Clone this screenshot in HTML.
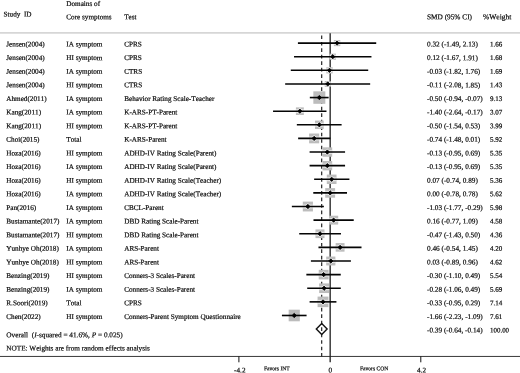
<!DOCTYPE html>
<html><head><meta charset="utf-8"><title>Forest plot</title>
<style>html,body{margin:0;padding:0;background:#fff}svg{display:block}text{font-kerning:none}</style></head>
<body>
<svg width="520" height="373" viewBox="0 0 520 373" font-family="'Liberation Serif', 'Times New Roman', serif" font-size="7.2" text-rendering="geometricPrecision">
<rect width="520" height="373" fill="#fff"/>
<line x1="0" y1="32.95" x2="520" y2="32.95" stroke="#d6d6d6" stroke-width="1.8"/>
<g fill="#0a0a0a" stroke="#0a0a0a" stroke-width="0.2">
<text transform="rotate(0.03 3.60 16.60)" x="3.60" y="16.60" xml:space="preserve">Study  ID</text>
<text transform="rotate(0.03 66.30 5.90)" x="66.30" y="5.90">Domains of</text>
<text transform="rotate(0.03 66.30 19.30)" x="66.30" y="19.30">Core symptoms</text>
<text transform="rotate(0.03 124.20 19.30)" x="124.20" y="19.30">Test</text>
<text transform="rotate(0.03 427.00 19.30)" x="427.00" y="19.30" font-size="7.3">SMD (95% CI)</text>
<text transform="rotate(0.03 483.00 19.30)" x="483.00" y="19.30" font-size="7.5">%Weight</text>
</g>
<line x1="330.15" y1="33.3" x2="330.15" y2="362.3" stroke="#000" stroke-width="1.15"/>
<line x1="321.71" y1="35.4" x2="321.71" y2="356.5" stroke="#111" stroke-width="1.1" stroke-dasharray="3.7,2.784"/>
<g fill="#bcbcbc">
<rect x="333.86" y="40.02" width="6.42" height="6.12"/>
<rect x="329.52" y="53.63" width="6.45" height="6.15"/>
<rect x="326.27" y="67.24" width="6.46" height="6.16"/>
<rect x="324.71" y="81.03" width="6.13" height="5.83"/>
<rect x="313.35" y="91.33" width="11.97" height="12.47"/>
<rect x="295.91" y="107.38" width="7.91" height="7.61"/>
<rect x="314.99" y="120.60" width="8.69" height="8.39"/>
<rect x="309.10" y="133.53" width="10.09" height="9.79"/>
<rect x="322.49" y="147.34" width="9.70" height="9.40"/>
<rect x="322.49" y="160.96" width="9.70" height="9.40"/>
<rect x="326.81" y="174.58" width="9.71" height="9.41"/>
<rect x="325.21" y="188.11" width="9.89" height="9.59"/>
<rect x="302.81" y="201.61" width="10.13" height="9.83"/>
<rect x="329.04" y="215.72" width="9.15" height="8.85"/>
<rect x="315.49" y="229.42" width="8.98" height="8.68"/>
<rect x="335.67" y="243.10" width="8.86" height="8.56"/>
<rect x="326.21" y="256.56" width="9.18" height="8.88"/>
<rect x="318.75" y="269.85" width="9.83" height="9.53"/>
<rect x="319.13" y="283.42" width="9.93" height="9.63"/>
<rect x="317.59" y="296.58" width="10.85" height="10.55"/>
<rect x="288.68" y="309.67" width="11.13" height="11.63"/>
</g>
<g fill="#fff" fill-opacity="0.6">
<rect x="333.86" y="41.08" width="6.42" height="4"/>
<polygon points="333.56,43.08 337.07,39.57 340.58,43.08 337.07,46.59"/>
<rect x="329.52" y="54.70" width="6.45" height="4"/>
<polygon points="329.22,56.70 332.75,53.18 336.27,56.70 332.75,60.22"/>
<rect x="326.27" y="68.32" width="6.46" height="4"/>
<polygon points="325.97,70.32 329.50,66.79 333.03,70.32 329.50,73.85"/>
<rect x="324.71" y="81.94" width="6.13" height="4"/>
<polygon points="324.41,83.94 327.77,80.58 331.13,83.94 327.77,87.30"/>
<rect x="295.91" y="109.18" width="7.91" height="4"/>
<polygon points="296.27,111.18 299.87,107.58 303.47,111.18 299.87,114.78"/>
<rect x="314.99" y="122.80" width="8.69" height="4"/>
<polygon points="315.73,124.80 319.33,121.20 322.94,124.80 319.33,128.40"/>
<rect x="309.10" y="136.42" width="10.09" height="4"/>
<polygon points="310.54,138.42 314.14,134.82 317.74,138.42 314.14,142.02"/>
<rect x="322.49" y="150.04" width="9.70" height="4"/>
<polygon points="323.74,152.04 327.34,148.44 330.94,152.04 327.34,155.64"/>
<rect x="322.49" y="163.66" width="9.70" height="4"/>
<polygon points="323.74,165.66 327.34,162.06 330.94,165.66 327.34,169.26"/>
<rect x="326.81" y="177.28" width="9.71" height="4"/>
<polygon points="328.06,179.28 331.66,175.68 335.26,179.28 331.66,182.88"/>
<rect x="325.21" y="190.90" width="9.89" height="4"/>
<polygon points="326.55,192.90 330.15,189.30 333.75,192.90 330.15,196.50"/>
<rect x="302.81" y="204.52" width="10.13" height="4"/>
<polygon points="304.27,206.52 307.87,202.92 311.47,206.52 307.87,210.12"/>
<rect x="329.04" y="218.14" width="9.15" height="4"/>
<polygon points="330.01,220.14 333.61,216.54 337.21,220.14 333.61,223.74"/>
<rect x="315.49" y="231.76" width="8.98" height="4"/>
<polygon points="316.38,233.76 319.98,230.16 323.58,233.76 319.98,237.36"/>
<rect x="335.67" y="245.38" width="8.86" height="4"/>
<polygon points="336.50,247.38 340.10,243.78 343.70,247.38 340.10,250.98"/>
<rect x="326.21" y="259.00" width="9.18" height="4"/>
<polygon points="327.20,261.00 330.80,257.40 334.40,261.00 330.80,264.60"/>
<rect x="318.75" y="272.62" width="9.83" height="4"/>
<polygon points="320.06,274.62 323.66,271.02 327.26,274.62 323.66,278.22"/>
<rect x="319.13" y="286.24" width="9.93" height="4"/>
<polygon points="320.49,288.24 324.09,284.64 327.69,288.24 324.09,291.84"/>
<rect x="317.59" y="299.86" width="10.85" height="4"/>
<polygon points="319.41,301.86 323.01,298.26 326.61,301.86 323.01,305.46"/>
</g>
<polygon points="316.31,329.10 321.71,323.60 327.12,329.10 321.71,334.60" fill="none" stroke="#111" stroke-width="1.4"/>
<g stroke="#050505" stroke-width="1.6">
<line x1="297.92" y1="43.08" x2="376.22" y2="43.08"/>
<line x1="294.03" y1="56.70" x2="371.46" y2="56.70"/>
<line x1="290.78" y1="70.32" x2="368.22" y2="70.32"/>
<line x1="285.16" y1="83.94" x2="370.17" y2="83.94"/>
<line x1="309.82" y1="97.56" x2="328.64" y2="97.56"/>
<line x1="273.05" y1="111.18" x2="326.47" y2="111.18"/>
<line x1="296.84" y1="124.80" x2="341.61" y2="124.80"/>
<line x1="298.14" y1="138.42" x2="330.37" y2="138.42"/>
<line x1="309.60" y1="152.04" x2="345.07" y2="152.04"/>
<line x1="309.60" y1="165.66" x2="345.07" y2="165.66"/>
<line x1="314.14" y1="179.28" x2="349.40" y2="179.28"/>
<line x1="313.28" y1="192.90" x2="347.02" y2="192.90"/>
<line x1="291.86" y1="206.52" x2="323.88" y2="206.52"/>
<line x1="313.49" y1="220.14" x2="353.73" y2="220.14"/>
<line x1="299.22" y1="233.76" x2="340.96" y2="233.76"/>
<line x1="318.47" y1="247.38" x2="361.51" y2="247.38"/>
<line x1="310.90" y1="261.00" x2="350.91" y2="261.00"/>
<line x1="306.36" y1="274.62" x2="340.75" y2="274.62"/>
<line x1="307.22" y1="288.24" x2="340.75" y2="288.24"/>
<line x1="309.60" y1="301.86" x2="336.42" y2="301.86"/>
<line x1="281.92" y1="315.48" x2="306.57" y2="315.48"/>
</g>
<g fill="#000" stroke="#000" stroke-width="0.8" stroke-linejoin="round">
<polygon points="334.92,43.08 337.07,40.93 339.22,43.08 337.07,45.23"/>
<polygon points="330.60,56.70 332.75,54.55 334.90,56.70 332.75,58.85"/>
<polygon points="327.35,70.32 329.50,68.17 331.65,70.32 329.50,72.47"/>
<polygon points="325.62,83.94 327.77,81.79 329.92,83.94 327.77,86.09"/>
<polygon points="317.19,97.56 319.33,95.41 321.48,97.56 319.33,99.71"/>
<polygon points="297.72,111.18 299.87,109.03 302.02,111.18 299.87,113.33"/>
<polygon points="317.19,124.80 319.33,122.65 321.48,124.80 319.33,126.95"/>
<polygon points="311.99,138.42 314.14,136.27 316.29,138.42 314.14,140.57"/>
<polygon points="325.19,152.04 327.34,149.89 329.49,152.04 327.34,154.19"/>
<polygon points="325.19,165.66 327.34,163.51 329.49,165.66 327.34,167.81"/>
<polygon points="329.51,179.28 331.66,177.13 333.81,179.28 331.66,181.43"/>
<polygon points="328.00,192.90 330.15,190.75 332.30,192.90 330.15,195.05"/>
<polygon points="305.72,206.52 307.87,204.37 310.02,206.52 307.87,208.67"/>
<polygon points="331.46,220.14 333.61,217.99 335.76,220.14 333.61,222.29"/>
<polygon points="317.83,233.76 319.98,231.61 322.13,233.76 319.98,235.91"/>
<polygon points="337.95,247.38 340.10,245.23 342.25,247.38 340.10,249.53"/>
<polygon points="328.65,261.00 330.80,258.85 332.95,261.00 330.80,263.15"/>
<polygon points="321.51,274.62 323.66,272.47 325.81,274.62 323.66,276.77"/>
<polygon points="321.94,288.24 324.09,286.09 326.24,288.24 324.09,290.39"/>
<polygon points="320.86,301.86 323.01,299.71 325.16,301.86 323.01,304.01"/>
<polygon points="292.09,315.48 294.24,313.33 296.39,315.48 294.24,317.63"/>
</g>
<g fill="#0a0a0a" stroke="#0a0a0a" stroke-width="0.2">
<text transform="rotate(0.03 6.30 46.50)" x="6.30" y="46.50">Jensen(2004)</text>
<text transform="rotate(0.03 66.30 46.50)" x="66.30" y="46.50">IA symptom</text>
<text transform="rotate(0.03 124.20 46.50)" x="124.20" y="46.50">CPRS</text>
<text transform="rotate(0.03 427.00 46.50)" x="427.00" y="46.50" font-size="7.27">0.32 (-1.49, 2.13)</text>
<text transform="rotate(0.03 490.00 46.50)" x="490.00" y="46.50" font-size="7">1.66</text>
<text transform="rotate(0.03 6.30 60.12)" x="6.30" y="60.12">Jensen(2004)</text>
<text transform="rotate(0.03 66.30 60.12)" x="66.30" y="60.12">HI symptom</text>
<text transform="rotate(0.03 124.20 60.12)" x="124.20" y="60.12">CPRS</text>
<text transform="rotate(0.03 427.00 60.12)" x="427.00" y="60.12" font-size="7.27">0.12 (-1.67, 1.91)</text>
<text transform="rotate(0.03 490.00 60.12)" x="490.00" y="60.12" font-size="7">1.68</text>
<text transform="rotate(0.03 6.30 73.74)" x="6.30" y="73.74">Jensen(2004)</text>
<text transform="rotate(0.03 66.30 73.74)" x="66.30" y="73.74">IA symptom</text>
<text transform="rotate(0.03 124.20 73.74)" x="124.20" y="73.74">CTRS</text>
<text transform="rotate(0.03 427.00 73.74)" x="427.00" y="73.74" font-size="7.27">-0.03 (-1.82, 1.76)</text>
<text transform="rotate(0.03 490.00 73.74)" x="490.00" y="73.74" font-size="7">1.69</text>
<text transform="rotate(0.03 6.30 87.36)" x="6.30" y="87.36">Jensen(2004)</text>
<text transform="rotate(0.03 66.30 87.36)" x="66.30" y="87.36">HI symptom</text>
<text transform="rotate(0.03 124.20 87.36)" x="124.20" y="87.36">CTRS</text>
<text transform="rotate(0.03 427.00 87.36)" x="427.00" y="87.36" font-size="7.27">-0.11 (-2.08, 1.85)</text>
<text transform="rotate(0.03 490.00 87.36)" x="490.00" y="87.36" font-size="7">1.43</text>
<text transform="rotate(0.03 6.30 100.98)" x="6.30" y="100.98">Ahmed(2011)</text>
<text transform="rotate(0.03 66.30 100.98)" x="66.30" y="100.98">IA symptom</text>
<text transform="rotate(0.03 124.20 100.98)" x="124.20" y="100.98">Behavior Rating Scale-Teacher</text>
<text transform="rotate(0.03 427.00 100.98)" x="427.00" y="100.98" font-size="7.27">-0.50 (-0.94, -0.07)</text>
<text transform="rotate(0.03 490.00 100.98)" x="490.00" y="100.98" font-size="7">9.13</text>
<text transform="rotate(0.03 6.30 114.60)" x="6.30" y="114.60">Kang(2011)</text>
<text transform="rotate(0.03 66.30 114.60)" x="66.30" y="114.60">IA symptom</text>
<text transform="rotate(0.03 124.20 114.60)" x="124.20" y="114.60">K-ARS-PT-Parent</text>
<text transform="rotate(0.03 427.00 114.60)" x="427.00" y="114.60" font-size="7.27">-1.40 (-2.64, -0.17)</text>
<text transform="rotate(0.03 490.00 114.60)" x="490.00" y="114.60" font-size="7">3.07</text>
<text transform="rotate(0.03 6.30 128.22)" x="6.30" y="128.22">Kang(2011)</text>
<text transform="rotate(0.03 66.30 128.22)" x="66.30" y="128.22">HI symptom</text>
<text transform="rotate(0.03 124.20 128.22)" x="124.20" y="128.22">K-ARS-PT-Parent</text>
<text transform="rotate(0.03 427.00 128.22)" x="427.00" y="128.22" font-size="7.27">-0.50 (-1.54, 0.53)</text>
<text transform="rotate(0.03 490.00 128.22)" x="490.00" y="128.22" font-size="7">3.99</text>
<text transform="rotate(0.03 6.30 141.84)" x="6.30" y="141.84">Choi(2015)</text>
<text transform="rotate(0.03 66.30 141.84)" x="66.30" y="141.84">Total</text>
<text transform="rotate(0.03 124.20 141.84)" x="124.20" y="141.84">K-ARS-Parent</text>
<text transform="rotate(0.03 427.00 141.84)" x="427.00" y="141.84" font-size="7.27">-0.74 (-1.48, 0.01)</text>
<text transform="rotate(0.03 490.00 141.84)" x="490.00" y="141.84" font-size="7">5.92</text>
<text transform="rotate(0.03 6.30 155.46)" x="6.30" y="155.46">Hoza(2016)</text>
<text transform="rotate(0.03 66.30 155.46)" x="66.30" y="155.46">HI symptom</text>
<text transform="rotate(0.03 124.20 155.46)" x="124.20" y="155.46">ADHD-IV Rating Scale(Parent)</text>
<text transform="rotate(0.03 427.00 155.46)" x="427.00" y="155.46" font-size="7.27">-0.13 (-0.95, 0.69)</text>
<text transform="rotate(0.03 490.00 155.46)" x="490.00" y="155.46" font-size="7">5.35</text>
<text transform="rotate(0.03 6.30 169.08)" x="6.30" y="169.08">Hoza(2016)</text>
<text transform="rotate(0.03 66.30 169.08)" x="66.30" y="169.08">IA symptom</text>
<text transform="rotate(0.03 124.20 169.08)" x="124.20" y="169.08">ADHD-IV Rating Scale(Parent)</text>
<text transform="rotate(0.03 427.00 169.08)" x="427.00" y="169.08" font-size="7.27">-0.13 (-0.95, 0.69)</text>
<text transform="rotate(0.03 490.00 169.08)" x="490.00" y="169.08" font-size="7">5.35</text>
<text transform="rotate(0.03 6.30 182.70)" x="6.30" y="182.70">Hoza(2016)</text>
<text transform="rotate(0.03 66.30 182.70)" x="66.30" y="182.70">HI symptom</text>
<text transform="rotate(0.03 124.20 182.70)" x="124.20" y="182.70">ADHD-IV Rating Scale(Teacher)</text>
<text transform="rotate(0.03 427.00 182.70)" x="427.00" y="182.70" font-size="7.27">0.07 (-0.74, 0.89)</text>
<text transform="rotate(0.03 490.00 182.70)" x="490.00" y="182.70" font-size="7">5.36</text>
<text transform="rotate(0.03 6.30 196.32)" x="6.30" y="196.32">Hoza(2016)</text>
<text transform="rotate(0.03 66.30 196.32)" x="66.30" y="196.32">IA symptom</text>
<text transform="rotate(0.03 124.20 196.32)" x="124.20" y="196.32">ADHD-IV Rating Scale(Teacher)</text>
<text transform="rotate(0.03 427.00 196.32)" x="427.00" y="196.32" font-size="7.27">0.00 (-0.78, 0.78)</text>
<text transform="rotate(0.03 490.00 196.32)" x="490.00" y="196.32" font-size="7">5.62</text>
<text transform="rotate(0.03 6.30 209.94)" x="6.30" y="209.94">Pan(2016)</text>
<text transform="rotate(0.03 66.30 209.94)" x="66.30" y="209.94">IA symptom</text>
<text transform="rotate(0.03 124.20 209.94)" x="124.20" y="209.94">CBCL-Parent</text>
<text transform="rotate(0.03 427.00 209.94)" x="427.00" y="209.94" font-size="7.27">-1.03 (-1.77, -0.29)</text>
<text transform="rotate(0.03 490.00 209.94)" x="490.00" y="209.94" font-size="7">5.98</text>
<text transform="rotate(0.03 6.30 223.56)" x="6.30" y="223.56">Bustamante(2017)</text>
<text transform="rotate(0.03 66.30 223.56)" x="66.30" y="223.56">IA symptom</text>
<text transform="rotate(0.03 124.20 223.56)" x="124.20" y="223.56">DBD Rating Scale-Parent</text>
<text transform="rotate(0.03 427.00 223.56)" x="427.00" y="223.56" font-size="7.27">0.16 (-0.77, 1.09)</text>
<text transform="rotate(0.03 490.00 223.56)" x="490.00" y="223.56" font-size="7">4.58</text>
<text transform="rotate(0.03 6.30 237.18)" x="6.30" y="237.18">Bustamante(2017)</text>
<text transform="rotate(0.03 66.30 237.18)" x="66.30" y="237.18">HI symptom</text>
<text transform="rotate(0.03 124.20 237.18)" x="124.20" y="237.18">DBD Rating Scale-Parent</text>
<text transform="rotate(0.03 427.00 237.18)" x="427.00" y="237.18" font-size="7.27">-0.47 (-1.43, 0.50)</text>
<text transform="rotate(0.03 490.00 237.18)" x="490.00" y="237.18" font-size="7">4.36</text>
<text transform="rotate(0.03 6.30 250.80)" x="6.30" y="250.80">Yunhye Oh(2018)</text>
<text transform="rotate(0.03 66.30 250.80)" x="66.30" y="250.80">IA symptom</text>
<text transform="rotate(0.03 124.20 250.80)" x="124.20" y="250.80">ARS-Parent</text>
<text transform="rotate(0.03 427.00 250.80)" x="427.00" y="250.80" font-size="7.27">0.46 (-0.54, 1.45)</text>
<text transform="rotate(0.03 490.00 250.80)" x="490.00" y="250.80" font-size="7">4.20</text>
<text transform="rotate(0.03 6.30 264.42)" x="6.30" y="264.42">Yunhye Oh(2018)</text>
<text transform="rotate(0.03 66.30 264.42)" x="66.30" y="264.42">HI symptom</text>
<text transform="rotate(0.03 124.20 264.42)" x="124.20" y="264.42">ARS-Parent</text>
<text transform="rotate(0.03 427.00 264.42)" x="427.00" y="264.42" font-size="7.27">0.03 (-0.89, 0.96)</text>
<text transform="rotate(0.03 490.00 264.42)" x="490.00" y="264.42" font-size="7">4.62</text>
<text transform="rotate(0.03 6.30 278.04)" x="6.30" y="278.04">Benzing(2019)</text>
<text transform="rotate(0.03 66.30 278.04)" x="66.30" y="278.04">HI symptom</text>
<text transform="rotate(0.03 124.20 278.04)" x="124.20" y="278.04">Conners-3 Scales-Parent</text>
<text transform="rotate(0.03 427.00 278.04)" x="427.00" y="278.04" font-size="7.27">-0.30 (-1.10, 0.49)</text>
<text transform="rotate(0.03 490.00 278.04)" x="490.00" y="278.04" font-size="7">5.54</text>
<text transform="rotate(0.03 6.30 291.66)" x="6.30" y="291.66">Benzing(2019)</text>
<text transform="rotate(0.03 66.30 291.66)" x="66.30" y="291.66">IA symptom</text>
<text transform="rotate(0.03 124.20 291.66)" x="124.20" y="291.66">Conners-3 Scales-Parent</text>
<text transform="rotate(0.03 427.00 291.66)" x="427.00" y="291.66" font-size="7.27">-0.28 (-1.06, 0.49)</text>
<text transform="rotate(0.03 490.00 291.66)" x="490.00" y="291.66" font-size="7">5.69</text>
<text transform="rotate(0.03 6.30 305.28)" x="6.30" y="305.28">R.Soori(2019)</text>
<text transform="rotate(0.03 66.30 305.28)" x="66.30" y="305.28">Total</text>
<text transform="rotate(0.03 124.20 305.28)" x="124.20" y="305.28">CPRS</text>
<text transform="rotate(0.03 427.00 305.28)" x="427.00" y="305.28" font-size="7.27">-0.33 (-0.95, 0.29)</text>
<text transform="rotate(0.03 490.00 305.28)" x="490.00" y="305.28" font-size="7">7.14</text>
<text transform="rotate(0.03 6.30 318.90)" x="6.30" y="318.90">Chen(2022)</text>
<text transform="rotate(0.03 66.30 318.90)" x="66.30" y="318.90">HI symptom</text>
<text transform="rotate(0.03 124.20 318.90)" x="124.20" y="318.90">Conners-Parent Symptom Questionnaire</text>
<text transform="rotate(0.03 427.00 318.90)" x="427.00" y="318.90" font-size="7.27">-1.66 (-2.23, -1.09)</text>
<text transform="rotate(0.03 490.00 318.90)" x="490.00" y="318.90" font-size="7">7.61</text>
<text transform="rotate(0.03 6.30 337.30)" x="6.30" y="337.30" xml:space="preserve" font-size="7.28">Overall  (<tspan font-style="italic">I</tspan>-squared = 41.6%, <tspan font-style="italic">P</tspan> = 0.025)</text>
<text transform="rotate(0.03 427.00 332.52)" x="427.00" y="332.52" font-size="7.25">-0.39 (-0.64, -0.14)</text>
<text transform="rotate(0.03 490.00 332.52)" x="490.00" y="332.52" font-size="6.95">100.00</text>
<text transform="rotate(0.03 6.30 350.40)" x="6.30" y="350.40" font-size="7.22">NOTE: Weights are from random effects analysis</text>
</g>
<line x1="0" y1="356.45" x2="520" y2="356.45" stroke="#222" stroke-width="0.9"/>
<line x1="238.90" y1="356.4" x2="238.90" y2="362.3" stroke="#111" stroke-width="1"/>
<line x1="420.80" y1="356.4" x2="420.80" y2="362.3" stroke="#111" stroke-width="1"/>
<g fill="#0a0a0a" stroke="#0a0a0a" stroke-width="0.2">
<text transform="rotate(0.03 239.80 372.50)" x="239.80" y="372.50" text-anchor="middle">-4.2</text>
<text transform="rotate(0.03 421.50 372.50)" x="421.50" y="372.50" text-anchor="middle">4.2</text>
<text transform="rotate(0.03 330.40 372.40)" x="330.40" y="372.40" text-anchor="middle">0</text>
<text transform="rotate(0.03 263.90 370.30)" x="263.90" y="370.30" font-size="5.55">Favors INT</text>
<text transform="rotate(0.03 360.00 370.30)" x="360.00" y="370.30" font-size="5.55">Favors CON</text>
</g>
</svg>
</body></html>
